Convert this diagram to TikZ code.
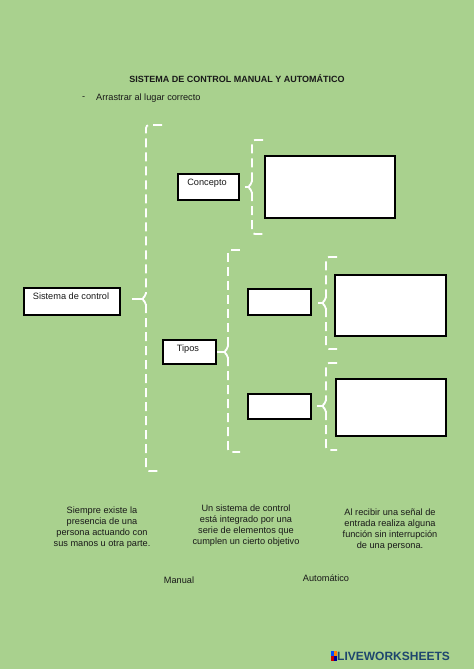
\documentclass[tikz,border=0pt]{standalone}
\usepackage{fontspec}
\setmainfont{Liberation Sans}
\begin{document}
\begin{tikzpicture}[x=1pt,y=-1pt,
  box/.style={draw=black,fill=white,line width=1.8pt,inner sep=0pt,anchor=north west},
  brace/.style={draw=white,line width=1.8pt,dash pattern=on 9pt off 5pt,rounded corners=3pt},
  link/.style={draw=white,line width=1.8pt},
  txt/.style={font=\fontsize{9.2}{11}\selectfont,text=black!90,align=center,inner sep=0pt},
]
\fill[fill={rgb,255:red,169;green,209;blue,142}] (0,0) rectangle (474,669);
\useasboundingbox (0,0) rectangle (474,669);

% title
\node[txt,font=\fontsize{9}{11}\selectfont\bfseries] (title) at (237,79) {SISTEMA DE CONTROL MANUAL Y AUTOMÁTICO};
\node[txt,anchor=west] (dash) at (82,98) {-};
\node[txt,anchor=west] (instr) at (96,98) {Arrastrar al lugar correcto};

% boxes
\node[box,minimum width=96pt,minimum height=27pt] (sc) at (23,287) {};
\node[txt] (sct) at (71,296) {Sistema de control};
\node[box,minimum width=61pt,minimum height=26pt] (con) at (177,173) {};
\node[txt] (cont) at (207,183) {Concepto};
\node[box,minimum width=53pt,minimum height=24pt] (tip) at (162,339) {};
\node[txt] (tipt) at (188,349) {Tipos};
\node[box,minimum width=130pt,minimum height=62pt] (ans1) at (264,155) {};
\node[box,minimum width=63pt,minimum height=26pt] (ty1) at (247,288) {};
\node[box,minimum width=63pt,minimum height=25pt] (ty2) at (247,393) {};
\node[box,minimum width=111pt,minimum height=61pt] (ans2) at (334,274) {};
\node[box,minimum width=110pt,minimum height=57pt] (ans3) at (335,378) {};

% braces: dashed arms, solid cusp
\coordinate (b1) at (142,299);
\draw[brace] (162,125) -- (146,125) -- (146,294);
\draw[brace] (146,304) -- (146,471) -- (162,471);
\draw[link,rounded corners=2pt] (146,292) -- (146,295) -- (b1) -- (146,303) -- (146,306);
\draw[link] ([xshift=11pt]sc.east|-b1) -- (b1);

\coordinate (b2) at (224,352);
\draw[brace] (240,250) -- (228,250) -- (228,347);
\draw[brace] (228,357) -- (228,452) -- (240,452);
\draw[link,rounded corners=2pt] (228,345) -- (228,348) -- (b2) -- (228,356) -- (228,359);
\draw[link] (tip.east|-b2) -- (b2);

\coordinate (b3) at (248,187);
\draw[brace] (263,140) -- (252,140) -- (252,182);
\draw[brace] (252,192) -- (252,234) -- (263,234);
\draw[link,rounded corners=2pt] (252,180) -- (252,183) -- (b3) -- (252,191) -- (252,194);
\draw[link] ([xshift=5pt]con.east|-b3) -- (b3);

\coordinate (b4) at (322,303);
\draw[brace] (337,257) -- (326,257) -- (326,298);
\draw[brace] (326,308) -- (326,349) -- (337,349);
\draw[link,rounded corners=2pt] (326,296) -- (326,299) -- (b4) -- (326,307) -- (326,310);
\draw[link] ([xshift=6pt]ty1.east|-b4) -- (b4);

\coordinate (b5) at (322,406);
\draw[brace] (337,363) -- (326,363) -- (326,401);
\draw[brace] (326,411) -- (326,450) -- (337,450);
\draw[link,rounded corners=2pt] (326,399) -- (326,402) -- (b5) -- (326,410) -- (326,413);
\draw[link] ([xshift=5pt]ty2.east|-b5) -- (b5);

% bottom texts
\node[txt,anchor=north] (d1) at (102,507) {Siempre existe la\\presencia de una\\persona actuando con\\sus manos u otra parte.};
\node[txt,anchor=north] (d2) at (246,505) {Un sistema de control\\está integrado por una\\serie de elementos que\\cumplen un cierto objetivo};
\node[txt,anchor=north] (d3) at (390,509) {Al recibir una señal de\\entrada realiza alguna\\función sin interrupción\\de una persona.};
\node[txt] (man) at (179,580) {Manual};
\node[txt] (aut) at (326,578) {Automático};

% watermark
\fill[blue!70!cyan] (331,651) rectangle (333.5,655.5);
\fill[orange] (334,651) rectangle (336.5,655.5);
\fill[red!80!black] (331,656) rectangle (333.5,660.5);
\fill[blue!60!black] (334,656) rectangle (336.5,660.5);
\node[inner sep=0pt,anchor=west,text={rgb,255:red,30;green,70;blue,110},font=\fontsize{12}{12}\selectfont\bfseries] (logo) at (337,656) {LIVEWORKSHEETS};
\end{tikzpicture}
\end{document}
